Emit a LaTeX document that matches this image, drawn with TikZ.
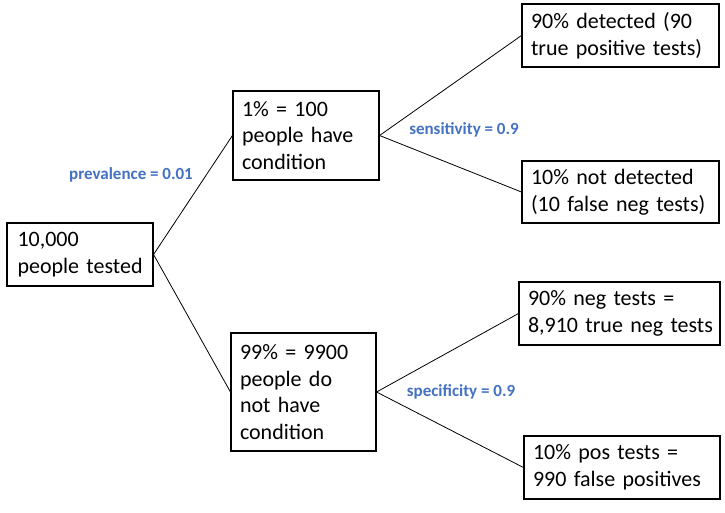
\documentclass[tikz,border=0pt]{standalone}
\usepackage{fontspec}
\setmainfont{Carlito}
\definecolor{lblblue}{HTML}{4472C4}
\tikzset{
  boxnode/.style={draw=black, line width=1.1pt, align=left, inner xsep=6pt, inner ysep=0pt,
    font=\fontsize{22}{26.8}\selectfont, anchor=center},
  link/.style={draw=black, line width=0.8pt},
  problabel/.style={text=lblblue, font=\fontsize{17}{19}\selectfont\bfseries, inner sep=0pt}
}
\begin{document}
\begin{tikzpicture}[x=1pt,y=-1pt]
\useasboundingbox[fill=white] (0,0) rectangle (725,512);
\node[boxnode, minimum width=146pt, minimum height=63pt, text width=131pt] (root) at (80,254.5) {\hspace*{3pt}10,000\\\hspace*{3pt}people tested};
\node[boxnode, minimum width=146pt, minimum height=89pt, text width=134pt] (yes) at (306,135.5) {\hspace*{3pt}1\% = 100\\\hspace*{3pt}people have\\\hspace*{3pt}condition};
\node[boxnode, minimum width=145pt, minimum height=118pt, text width=133pt] (no) at (303.5,392) {\hspace*{3pt}99\% = 9900\\\hspace*{3pt}people do\\\hspace*{3pt}not have\\\hspace*{3pt}condition};
\node[boxnode, minimum width=197pt, minimum height=63pt, text width=185pt] (tp) at (620.5,35.5) {\hspace*{3pt}90\% detected (90\\\hspace*{3pt}true positive tests)};
\node[boxnode, minimum width=197pt, minimum height=62pt, text width=185pt] (fn) at (620.5,192) {\hspace*{3pt}10\% not detected\\\hspace*{3pt}(10 false neg tests)};
\node[boxnode, minimum width=201pt, minimum height=63pt, text width=189pt] (tn) at (619.5,313.5) {\hspace*{3pt}90\% neg tests =\\\hspace*{3pt}8,910 true neg tests};
\node[boxnode, minimum width=196pt, minimum height=63pt, text width=184pt] (fp) at (622,467.5) {\hspace*{3pt}10\% pos tests =\\\hspace*{3pt}990 false positives};
\draw[link] (root.east) -- (yes.west);
\draw[link] (root.east) -- (no.west);
\draw[link] (yes.east) -- (tp.west);
\draw[link] (yes.east) -- (fn.west);
\draw[link] (no.east) -- (tn.west);
\draw[link] (no.east) -- (fp.west);
\node[problabel] (prev) at (131,175) {prevalence = 0.01};
\node[problabel] (sens) at (464,130) {sensitivity = 0.9};
\node[problabel] (spec) at (461,392) {specificity = 0.9};
\end{tikzpicture}
\end{document}
